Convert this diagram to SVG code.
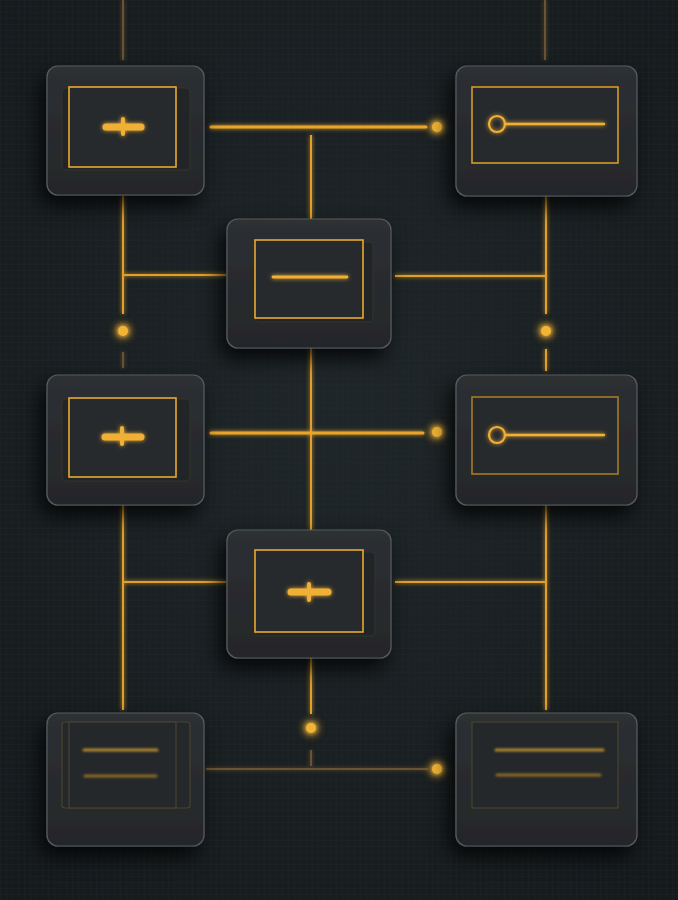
<svg xmlns="http://www.w3.org/2000/svg" width="678" height="900" viewBox="0 0 678 900">
<defs>
  <pattern id="grid" width="6" height="6" patternUnits="userSpaceOnUse">
    <path d="M6 0H0V6" fill="none" stroke="#283033" stroke-width="0.6" opacity="0.6"/>
  </pattern>
  <radialGradient id="bgGlow" cx="0.5" cy="0.45" r="0.7">
    <stop offset="0" stop-color="#1f2629"/>
    <stop offset="1" stop-color="#161a1d"/>
  </radialGradient>
  <linearGradient id="cardFill" x1="0" y1="0" x2="0" y2="1">
    <stop offset="0" stop-color="#2d3033"/>
    <stop offset="1" stop-color="#242729"/>
  </linearGradient>
  <filter id="shadow" x="-30%" y="-30%" width="160%" height="170%">
    <feDropShadow dx="-6" dy="10" stdDeviation="10" flood-color="#000" flood-opacity="0.8"/>
  </filter>
  <filter id="glow" filterUnits="userSpaceOnUse" x="0" y="0" width="678" height="900">
    <feGaussianBlur in="SourceGraphic" stdDeviation="2" result="b"/>
    <feMerge><feMergeNode in="b"/><feMergeNode in="SourceGraphic"/></feMerge>
  </filter>
  <filter id="dotGlow" filterUnits="userSpaceOnUse" x="0" y="0" width="678" height="900">
    <feGaussianBlur in="SourceGraphic" stdDeviation="4" result="b"/>
    <feMerge><feMergeNode in="b"/><feMergeNode in="SourceGraphic"/></feMerge>
  </filter>
  <filter id="soft" filterUnits="userSpaceOnUse" x="0" y="0" width="678" height="900">
    <feGaussianBlur stdDeviation="1.3"/>
  </filter>
  <style>
    .card { fill: url(#cardFill); stroke: #575b5f; stroke-width: 1.2; filter: url(#shadow); }
    .inner { fill: #272a2d; stroke: #e9a92b; stroke-width: 1.6; }
    .innerShade { fill: #222528; stroke: #36322a; stroke-width: 1; }
    .innerDim { fill: #25282a; stroke: #4a4130; stroke-width: 1.2; }
    .wire { stroke: #e8a52a; stroke-width: 3; fill: none; stroke-linecap: round; }
    .wireThin { stroke: #e0a02a; stroke-width: 2; fill: none; }
    .wireDim { stroke: #6a5330; stroke-width: 2; fill: none; }
    .bar { stroke: #f0b035; stroke-linecap: round; fill: none; }
    .dot { fill: #f2b436; filter: url(#dotGlow); }
    .dimLine { stroke: #8a6a2c; stroke-width: 3; stroke-linecap: round; filter: url(#soft); }
  </style>
</defs>

<rect width="678" height="900" fill="url(#bgGlow)"/>
<rect width="678" height="900" fill="url(#grid)"/>

<g id="connectors" filter="url(#glow)">
  <line class="wireDim" x1="123" y1="0" x2="123" y2="60"/>
  <line class="wireDim" x1="545" y1="0" x2="545" y2="60"/>
  <line class="wire" x1="211" y1="127" x2="426" y2="127"/>
  <circle class="dot" cx="437" cy="127" r="5"/>
  <line class="wireThin" x1="311" y1="135" x2="311" y2="219"/>
  <line class="wireThin" x1="311" y1="348" x2="311" y2="530"/>
  <line class="wireThin" x1="311" y1="658" x2="311" y2="714"/>
  <circle class="dot" cx="311" cy="728" r="5"/>
  <line class="wireDim" x1="311" y1="750" x2="311" y2="766"/>
  <line class="wireThin" x1="123" y1="196" x2="123" y2="314"/>
  <circle class="dot" cx="123" cy="331" r="5"/>
  <line class="wireDim" x1="123" y1="352" x2="123" y2="368"/>
  <line class="wireThin" x1="546" y1="196" x2="546" y2="314"/>
  <circle class="dot" cx="546" cy="331" r="5"/>
  <line class="wireThin" x1="546" y1="349" x2="546" y2="371"/>
  <line class="wireThin" x1="124" y1="275" x2="226" y2="275"/>
  <line class="wireThin" x1="395" y1="276" x2="546" y2="276"/>
  <line class="wire" x1="211" y1="433" x2="423" y2="433"/>
  <circle class="dot" cx="437" cy="432" r="5"/>
  <line class="wireThin" x1="123" y1="505" x2="123" y2="710"/>
  <line class="wireThin" x1="546" y1="505" x2="546" y2="710"/>
  <line class="wireThin" x1="124" y1="582" x2="226" y2="582"/>
  <line class="wireThin" x1="395" y1="582" x2="546" y2="582"/>
  <line class="wireDim" x1="206" y1="769" x2="428" y2="769" stroke-width="2.5"/>
  <circle class="dot" cx="437" cy="769" r="5"/>
</g>

<g id="node-tl">
  <rect class="card" x="47" y="66" width="157" height="129" rx="11"/>
  <rect class="innerShade" x="62" y="88" width="128" height="82" rx="4"/>
  <rect class="inner" x="69" y="87" width="107" height="80"/>
  <g filter="url(#glow)">
    <line class="bar" x1="106" y1="127" x2="141" y2="127" stroke-width="7"/>
    <line class="bar" x1="123" y1="119" x2="123" y2="134" stroke-width="4"/>
  </g>
</g>

<g id="node-tr">
  <rect class="card" x="456" y="66" width="181" height="130" rx="11"/>
  <rect class="inner" x="472" y="87" width="146" height="76" style="stroke:#d79a28"/>
  <g filter="url(#glow)">
    <circle cx="497" cy="124" r="8" fill="none" stroke="#f0b035" stroke-width="2.2"/>
    <line class="bar" x1="505" y1="124" x2="604" y2="124" stroke-width="2.5"/>
  </g>
</g>

<g id="node-c1">
  <rect class="card" x="227" y="219" width="164" height="129" rx="11"/>
  <rect class="innerShade" x="255" y="242" width="118" height="80" rx="4"/>
  <rect class="inner" x="255" y="240" width="108" height="78"/>
  <line class="bar" x1="273" y1="277" x2="347" y2="277" stroke-width="2.8" filter="url(#glow)"/>
</g>

<g id="node-ml">
  <rect class="card" x="47" y="375" width="157" height="130" rx="11"/>
  <rect class="innerShade" x="62" y="399" width="128" height="82" rx="4"/>
  <rect class="inner" x="69" y="398" width="107" height="79"/>
  <g filter="url(#glow)">
    <line class="bar" x1="105" y1="437" x2="141" y2="437" stroke-width="7"/>
    <line class="bar" x1="122" y1="428" x2="122" y2="444" stroke-width="4"/>
  </g>
</g>

<g id="node-mr">
  <rect class="card" x="456" y="375" width="181" height="130" rx="11"/>
  <rect class="inner" x="472" y="397" width="146" height="77" style="stroke:#a57a26"/>
  <g filter="url(#glow)">
    <circle cx="497" cy="435" r="8" fill="none" stroke="#f0b035" stroke-width="2.2"/>
    <line class="bar" x1="505" y1="435" x2="604" y2="435" stroke-width="2.5"/>
  </g>
</g>

<g id="node-c2">
  <rect class="card" x="227" y="530" width="164" height="128" rx="11"/>
  <rect class="innerShade" x="255" y="552" width="120" height="84" rx="4"/>
  <rect class="inner" x="255" y="550" width="108" height="82"/>
  <g filter="url(#glow)">
    <line class="bar" x1="291" y1="592" x2="328" y2="592" stroke-width="7"/>
    <line class="bar" x1="309" y1="584" x2="309" y2="600" stroke-width="4"/>
  </g>
</g>

<g id="node-bl">
  <rect class="card" x="47" y="713" width="157" height="133" rx="11"/>
  <rect class="innerDim" x="62" y="722" width="128" height="86" rx="3"/>
  <rect class="innerDim" x="69" y="722" width="107" height="86"/>
  <line class="dimLine" x1="84" y1="750" x2="157" y2="750" style="stroke:#b08530"/>
  <line class="dimLine" x1="85" y1="776" x2="156" y2="776"/>
</g>

<g id="node-br">
  <rect class="card" x="456" y="713" width="181" height="133" rx="11"/>
  <rect class="innerDim" x="472" y="722" width="146" height="86"/>
  <line class="dimLine" x1="496" y1="750" x2="603" y2="750" style="stroke:#b08530"/>
  <line class="dimLine" x1="497" y1="775" x2="600" y2="775"/>
</g>
</svg>
